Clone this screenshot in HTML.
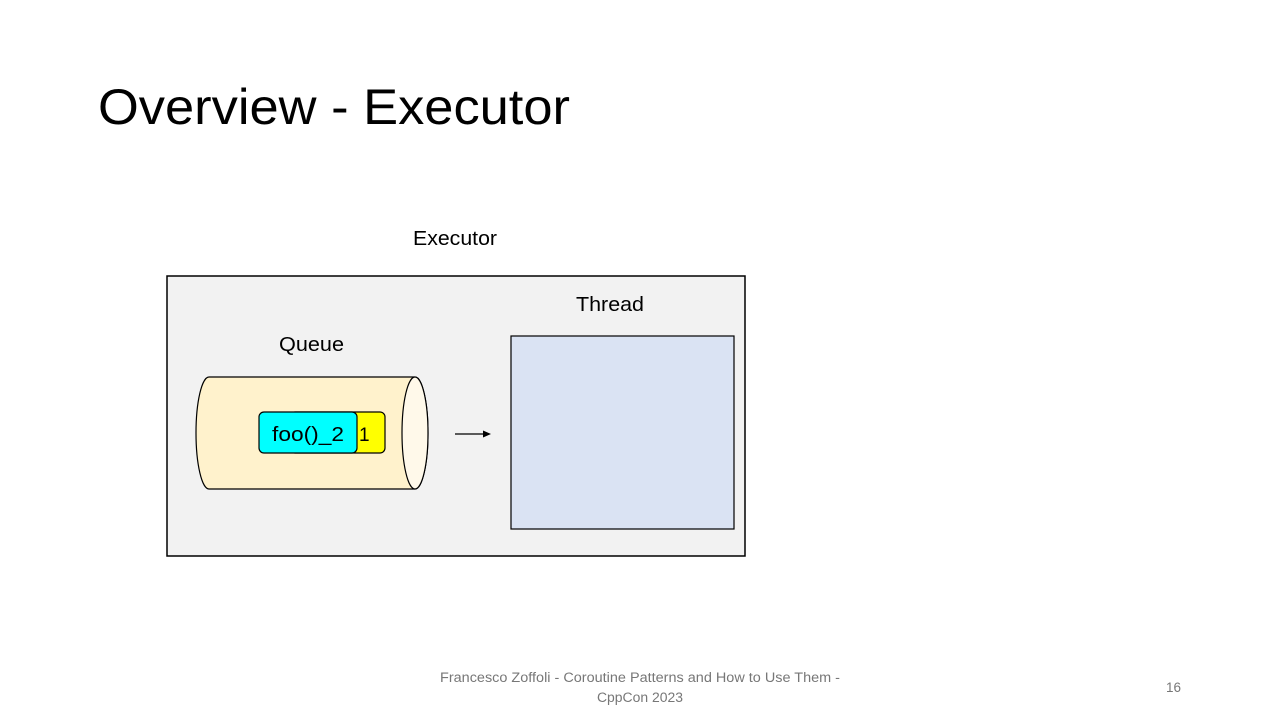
<!DOCTYPE html>
<html><head><meta charset="utf-8"><style>
html,body{margin:0;padding:0;background:#fff}
svg{display:block}
text{font-family:"Liberation Sans",sans-serif}
</style></head><body>
<svg width="1280" height="720" viewBox="0 0 1280 720">
<rect width="1280" height="720" fill="#fff"/>
<text x="98" y="124" font-size="50" fill="#000" textLength="472" lengthAdjust="spacingAndGlyphs">Overview - Executor</text>
<text x="413" y="245" font-size="20" textLength="84" lengthAdjust="spacingAndGlyphs">Executor</text>
<rect x="167" y="276" width="578" height="280" fill="#f2f2f2" stroke="#000" stroke-width="1.5"/>
<text x="576" y="311" font-size="20" textLength="68" lengthAdjust="spacingAndGlyphs">Thread</text>
<rect x="511" y="336" width="223" height="193" fill="#dae3f3" stroke="#000" stroke-width="1.2"/>
<text x="279" y="351" font-size="20" textLength="65" lengthAdjust="spacingAndGlyphs">Queue</text>
<path d="M209,377 L415,377 A13,56 0 0 1 415,489 L209,489 A13,56 0 0 1 209,377 Z" fill="#fff2cc" stroke="#000" stroke-width="1.2"/>
<ellipse cx="415" cy="433" rx="13" ry="56" fill="#fff9ea" stroke="#000" stroke-width="1.2"/>
<rect x="290" y="412" width="95" height="41" rx="5" fill="#ffff00" stroke="#000" stroke-width="1.2"/>
<text x="359" y="441" font-size="19">1</text>
<rect x="259" y="412" width="98" height="41" rx="5" fill="#00ffff" stroke="#000" stroke-width="1.2"/>
<text x="272" y="441" font-size="20" textLength="72" lengthAdjust="spacingAndGlyphs">foo()_2</text>
<line x1="455" y1="434" x2="484" y2="434" stroke="#000" stroke-width="1.3"/>
<polygon points="491,434 483,430.5 483,437.5" fill="#000"/>
<text x="440" y="682" font-size="13.5" fill="#777" textLength="400" lengthAdjust="spacingAndGlyphs">Francesco Zoffoli - Coroutine Patterns and How to Use Them -</text>
<text x="597" y="702" font-size="13.5" fill="#777" textLength="86" lengthAdjust="spacingAndGlyphs">CppCon 2023</text>
<text x="1166" y="692" font-size="13.5" fill="#777">16</text>
</svg>
</body></html>
